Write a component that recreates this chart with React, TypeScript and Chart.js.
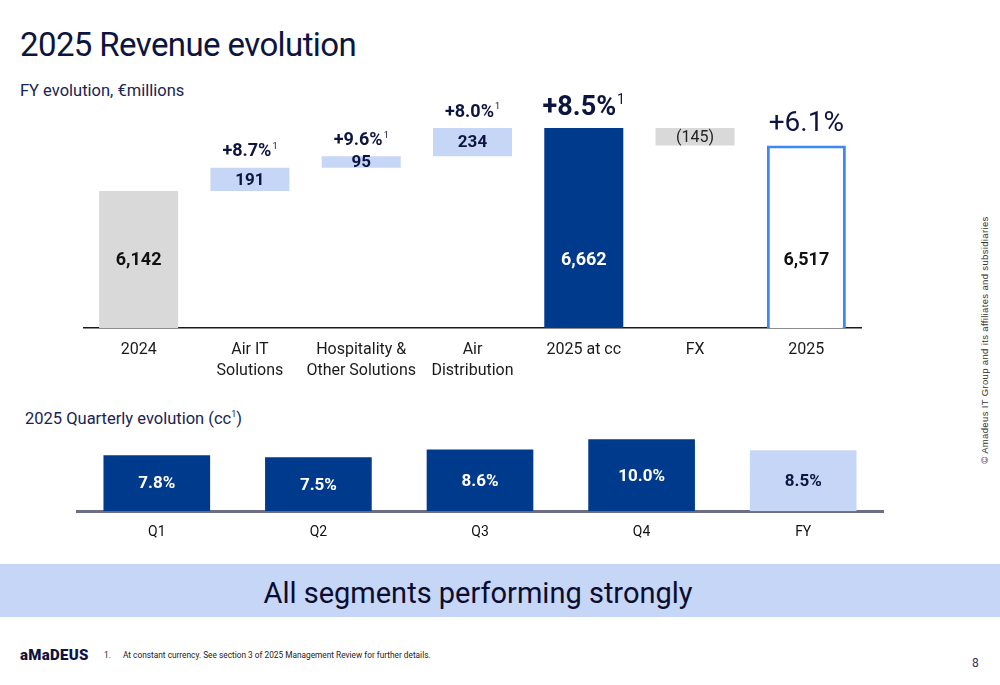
import React, { useEffect, useRef } from 'react';
import { Chart, registerables } from 'chart.js';

Chart.register(...registerables);

const FONT = 'Roboto, "Liberation Sans", sans-serif';
const NAVY = '#0d1440';
const DARK_BLUE = '#003a8c';
const LIGHT_BLUE = '#c6d6f7';
const GREY = '#d9d9d9';
const OUTLINE_BLUE = '#3d88f2';

// ---- Waterfall data ----
const wfCategories = [
  ['2024'],
  ['Air IT', 'Solutions'],
  ['Hospitality &', 'Other Solutions'],
  ['Air', 'Distribution'],
  ['2025 at cc'],
  ['FX'],
  ['2025'],
];
const wfValues = [6142, 191, 95, 234, 6662, -145, 6517];
const wfIsTotal = [true, false, false, false, true, false, true];
const wfGrowth = ['', '+8.7%', '+9.6%', '+8.0%', '+8.5%', '', '+6.1%'];
const wfGrowthNote = ['', '1', '1', '1', '1', '', ''];
const wfColors = [GREY, LIGHT_BLUE, LIGHT_BLUE, LIGHT_BLUE, DARK_BLUE, GREY, '#ffffff'];
const wfBorderWidths = [0, 0, 0, 0, 0, 0, 3];
const wfYMin = 5010;
const wfYMax = 6976;

// ---- Quarterly data ----
const qCategories = ['Q1', 'Q2', 'Q3', 'Q4', 'FY'];
const qValues = [7.8, 7.5, 8.6, 10.0, 8.5];
const qColors = [DARK_BLUE, DARK_BLUE, DARK_BLUE, DARK_BLUE, LIGHT_BLUE];
const qLabelColors = ['#ffffff', '#ffffff', '#ffffff', '#ffffff', NAVY];

function buildWaterfall() {
  let running = 0;
  return wfValues.map((v, i) => {
    if (wfIsTotal[i]) {
      running = v;
      return v;
    }
    const start = running;
    running += v;
    return [start, running];
  });
}

const wfLabelPlugin = {
  id: 'wfLabels',
  afterDatasetsDraw(chart: any) {
    const ctx = chart.ctx;
    const meta = chart.getDatasetMeta(0);
    meta.data.forEach((el: any, i: number) => {
      const top = Math.min(el.y, el.base);
      const bottom = Math.max(el.y, el.base);
      const v = wfValues[i];
      ctx.save();
      ctx.textAlign = 'center';
      ctx.textBaseline = 'middle';
      if (wfIsTotal[i]) {
        ctx.font = `bold 18px ${FONT}`;
        ctx.fillStyle = i === 4 ? '#ffffff' : '#111111';
        ctx.fillText(v.toLocaleString('en-US'), el.x, bottom - 68);
      } else if (v < 0) {
        ctx.font = `16px ${FONT}`;
        ctx.fillStyle = '#222222';
        ctx.fillText(`(${Math.abs(v)})`, el.x, (top + bottom) / 2 + 1);
      } else {
        ctx.font = `bold 17px ${FONT}`;
        ctx.fillStyle = NAVY;
        ctx.fillText(String(v), el.x, (top + bottom) / 2 + 1);
      }
      const g = wfGrowth[i];
      if (g) {
        let size = 18;
        let weight = 'bold';
        let offset = 16;
        if (i === 4) { size = 27; offset = 20; }
        if (i === 6) { size = 28; weight = 'normal'; offset = 22; }
        const note = wfGrowthNote[i];
        const noteSize = Math.round(size * 0.5);
        ctx.font = `${weight} ${size}px ${FONT}`;
        const w = ctx.measureText(g).width;
        ctx.font = `${noteSize}px ${FONT}`;
        const nw = note ? ctx.measureText(note).width + 1 : 0;
        const startX = el.x - (w + nw) / 2;
        const y = top - offset;
        ctx.textAlign = 'left';
        ctx.font = `${weight} ${size}px ${FONT}`;
        ctx.fillStyle = NAVY;
        ctx.fillText(g, startX, y);
        if (note) {
          ctx.font = `${noteSize}px ${FONT}`;
          ctx.fillText(note, startX + w + 1, y - size * 0.28);
        }
      }
      ctx.restore();
    });
  },
};

const qLabelPlugin = {
  id: 'qLabels',
  afterDatasetsDraw(chart: any) {
    const ctx = chart.ctx;
    const meta = chart.getDatasetMeta(0);
    meta.data.forEach((el: any, i: number) => {
      ctx.save();
      ctx.textAlign = 'center';
      ctx.textBaseline = 'middle';
      ctx.font = `bold 17px ${FONT}`;
      ctx.fillStyle = qLabelColors[i];
      ctx.fillText(`${qValues[i].toFixed(1)}%`, el.x, (el.y + el.base) / 2 + 1);
      ctx.restore();
    });
  },
};

function WaterfallChart() {
  const ref = useRef<HTMLCanvasElement | null>(null);
  useEffect(() => {
    if (!ref.current) return;
    const chart = new Chart(ref.current, {
      type: 'bar',
      data: {
        labels: wfCategories as any,
        datasets: [
          {
            data: buildWaterfall() as any,
            backgroundColor: wfColors,
            borderColor: OUTLINE_BLUE,
            borderWidth: wfBorderWidths,
            borderSkipped: 'bottom',
            base: wfYMin,
            barPercentage: 0.71,
            categoryPercentage: 1,
          } as any,
        ],
      },
      options: {
        responsive: false,
        animation: false,
        layout: { padding: { top: 10, left: 0, right: 0, bottom: 0 } },
        plugins: { legend: { display: false }, tooltip: { enabled: false } },
        scales: {
          x: {
            grid: { display: false, drawTicks: false },
            border: { display: true, color: '#1a1a1a', width: 1.5 },
            ticks: {
              color: '#1a1a1a',
              font: { family: FONT, size: 16, lineHeight: 1.3125 },
              padding: 11,
              maxRotation: 0,
              autoSkip: false,
            },
          },
          y: { display: false, min: wfYMin, max: wfYMax },
        },
      },
      plugins: [wfLabelPlugin],
    });
    return () => chart.destroy();
  }, []);
  return (
    <canvas
      ref={ref}
      width={779}
      height={312}
      style={{ position: 'absolute', left: 83, top: 80, width: 779, height: 312 }}
    />
  );
}

function QuarterlyChart() {
  const ref = useRef<HTMLCanvasElement | null>(null);
  useEffect(() => {
    if (!ref.current) return;
    const chart = new Chart(ref.current, {
      type: 'bar',
      data: {
        labels: qCategories,
        datasets: [
          {
            data: qValues,
            backgroundColor: qColors,
            borderWidth: 0,
            barPercentage: 0.66,
            categoryPercentage: 1,
          },
        ],
      },
      options: {
        responsive: false,
        animation: false,
        layout: { padding: { top: 10, left: 0, right: 0, bottom: 0 } },
        plugins: { legend: { display: false }, tooltip: { enabled: false } },
        scales: {
          x: {
            grid: { display: false, drawTicks: false },
            border: { display: true, color: '#6b6e85', width: 3 },
            ticks: {
              color: '#111111',
              font: { family: FONT, size: 14, lineHeight: 1.2 },
              padding: 13,
              maxRotation: 0,
              autoSkip: false,
            },
          },
          y: { display: false, min: 0, max: 12 },
        },
      },
      plugins: [qLabelPlugin],
    });
    return () => chart.destroy();
  }, []);
  return (
    <canvas
      ref={ref}
      width={808}
      height={139}
      style={{ position: 'absolute', left: 76, top: 415, width: 808, height: 139 }}
    />
  );
}

export default function App() {
  return (
    <div
      style={{
        position: 'absolute',
        left: 0,
        top: 0,
        width: 1000,
        height: 685,
        background: '#ffffff',
        fontFamily: FONT,
        overflow: 'hidden',
      }}
    >
      <div style={{ position: 'absolute', left: 20, top: 25, fontSize: 33, color: NAVY, letterSpacing: -0.6, whiteSpace: 'nowrap', lineHeight: '40px' }}>
        2025 Revenue evolution
      </div>
      <div style={{ position: 'absolute', left: 20, top: 80, fontSize: 16.5, color: '#1b2350', whiteSpace: 'nowrap', lineHeight: '22px' }}>
        FY evolution, €millions
      </div>
      <WaterfallChart />
      <div style={{ position: 'absolute', left: 25, top: 403, fontSize: 16.5, color: '#1b2350', whiteSpace: 'nowrap', lineHeight: '22px' }}>
        2025 Quarterly evolution (cc<sup style={{ fontSize: 9 }}>1</sup>)
      </div>
      <QuarterlyChart />
      <div
        style={{
          position: 'absolute',
          left: 0,
          top: 564,
          width: 1000,
          height: 53,
          background: LIGHT_BLUE,
        }}
      />
      <div style={{ position: 'absolute', left: 0, top: 573, width: 956, textAlign: 'center', fontSize: 29, color: '#0c0c2e', lineHeight: '40px', whiteSpace: 'nowrap' }}>
        All segments performing strongly
      </div>
      <div style={{ position: 'absolute', left: 20, top: 646, fontSize: 15, fontWeight: 900, color: NAVY, letterSpacing: 0.3, lineHeight: '18px' }}>
        aMaDEUS
      </div>
      <div style={{ position: 'absolute', left: 104, top: 649, fontSize: 8.3, color: '#222222', lineHeight: '12px', whiteSpace: 'nowrap' }}>
        1.
      </div>
      <div style={{ position: 'absolute', left: 123, top: 649, fontSize: 8.3, color: '#222222', lineHeight: '12px', whiteSpace: 'nowrap' }}>
        At constant currency. See section 3 of 2025 Management Review for further details.
      </div>
      <div style={{ position: 'absolute', left: 972, top: 655, fontSize: 12, color: '#333355', lineHeight: '16px' }}>
        8
      </div>
      <div
        style={{
          position: 'absolute',
          left: 835,
          top: 333,
          width: 300,
          textAlign: 'center',
          fontSize: 9.5,
          color: '#333333',
          letterSpacing: 0.35,
          lineHeight: '14px',
          whiteSpace: 'nowrap',
          fontFamily: '"Liberation Sans", Arial, sans-serif',
          transform: 'rotate(-90deg)',
          transformOrigin: '150px 7px',
        }}
      >
        © Amadeus IT Group and its affiliates and subsidiaries
      </div>
    </div>
  );
}
